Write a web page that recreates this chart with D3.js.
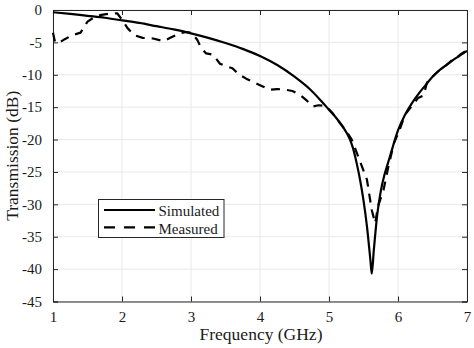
<!DOCTYPE html>
<html>
<head>
<meta charset="utf-8">
<script src="https://cdn.jsdelivr.net/npm/d3@7"></script>
<style>
  html, body { margin: 0; padding: 0; background: #fff; }
  svg { display: block; }
  svg text { font-family: 'Liberation Serif', 'Times New Roman', Tinos, 'DejaVu Serif', serif !important; fill: #1a1a1a; }
</style>
</head>
<body>
<svg id="chart" width="474" height="348"></svg>
<script>
const xTicks = [1, 2, 3, 4, 5, 6, 7];
const yTicks = [0, -5, -10, -15, -20, -25, -30, -35, -40, -45];

const simFreq = [1.0, 1.25, 1.5, 1.75, 2.0, 2.25, 2.5, 2.75, 3.0, 3.25, 3.5, 3.75, 4.0, 4.25, 4.5, 4.75, 4.9, 5.0, 5.1, 5.2, 5.3, 5.35, 5.4, 5.45, 5.5, 5.55, 5.6, 5.62, 5.65, 5.7, 5.75, 5.8, 5.85, 5.9, 6.0, 6.1, 6.2, 6.3, 6.4, 6.5, 6.6, 6.7, 6.8, 6.9, 7.0];
const simDB   = [-0.35, -0.6, -0.9, -1.2, -1.6, -2.0, -2.5, -3.0, -3.6, -4.3, -5.1, -6.0, -7.1, -8.5, -10.3, -12.5, -14.2, -15.4, -16.6, -18.0, -19.9, -21.4, -23.6, -26.2, -29.4, -33.4, -38.6, -40.7, -37.0, -31.5, -28.0, -25.6, -23.8, -22.0, -18.6, -16.2, -14.4, -12.9, -11.6, -10.3, -9.3, -8.5, -7.7, -7.0, -6.3];

const measFreq = [1.0, 1.03, 1.1, 1.17, 1.28, 1.4, 1.5, 1.6, 1.68, 1.8, 1.93, 2.0, 2.08, 2.18, 2.3, 2.45, 2.6, 2.7, 2.84, 2.93, 3.01, 3.09, 3.15, 3.22, 3.32, 3.42, 3.52, 3.6, 3.69, 3.8, 3.9, 4.0, 4.14, 4.25, 4.36, 4.47, 4.58, 4.68, 4.77, 4.85, 4.95, 5.05, 5.16, 5.25, 5.33, 5.44, 5.55, 5.62, 5.67, 5.71, 5.79, 5.86, 5.94, 6.03, 6.1, 6.2, 6.29, 6.37, 6.42, 6.5, 6.6, 6.7, 6.8, 6.85, 6.9, 7.0];
const measDB   = [-3.5, -5.0, -5.0, -4.5, -3.9, -3.5, -1.8, -1.1, -0.8, -0.6, -0.5, -1.5, -2.8, -3.9, -4.3, -4.4, -4.8, -4.3, -3.6, -3.4, -3.5, -4.6, -5.9, -6.7, -6.9, -8.3, -8.7, -9.0, -9.9, -10.6, -11.1, -11.6, -12.3, -12.2, -12.3, -12.5, -13.1, -14.0, -14.9, -14.7, -14.8, -15.9, -17.5, -18.7, -20.0, -23.1, -26.2, -30.9, -32.9, -30.3, -27.8, -24.2, -20.6, -18.3, -16.2, -14.8, -13.6, -13.2, -11.2, -10.3, -9.3, -8.5, -7.6, -7.4, -6.9, -6.2];

const seriesNames = ["Simulated", "Measured"];
const xLabel = "Frequency (GHz)";
const yLabel = "Transmission (dB)";

const FONT = "'Liberation Serif', 'Times New Roman', Tinos, 'DejaVu Serif', serif";
const svg = d3.select("#chart");
const L = 53, R = 467, T = 10, B = 301.5;

const x = d3.scaleLinear().domain([1, 7]).range([L, R]);
const y = d3.scaleLinear().domain([-45, 0]).range([B, T]);

// grid
const grid = svg.append("g");
grid.selectAll("line.gx").data(xTicks).enter().append("line")
  .attr("x1", d => x(d)).attr("x2", d => x(d)).attr("y1", T).attr("y2", B)
  .attr("stroke", "#e8e8e8").attr("stroke-width", 1);
grid.selectAll("line.gy").data(yTicks).enter().append("line")
  .attr("y1", d => y(d)).attr("y2", d => y(d)).attr("x1", L).attr("x2", R)
  .attr("stroke", "#e8e8e8").attr("stroke-width", 1);

// axes
const axisColor = "#262626";
const xAxis = svg.append("g").attr("transform", `translate(0,${B})`)
  .call(d3.axisBottom(x).tickValues(xTicks).tickSize(-5).tickPadding(10).tickFormat(d3.format("d")));
const xAxisTop = svg.append("g").attr("transform", `translate(0,${T})`)
  .call(d3.axisTop(x).tickValues(xTicks).tickSize(-5).tickFormat(""));
const yAxis = svg.append("g").attr("transform", `translate(${L},0)`)
  .call(d3.axisLeft(y).tickValues(yTicks).tickSize(-5).tickPadding(11).tickFormat(d => d === 0 ? "0" : "-" + Math.abs(d)));
const yAxisR = svg.append("g").attr("transform", `translate(${R},0)`)
  .call(d3.axisRight(y).tickValues(yTicks).tickSize(-5).tickFormat(""));

[xAxis, xAxisTop, yAxis, yAxisR].forEach(g => {
  g.attr("font-family", FONT).attr("font-size", 15);
  g.select(".domain").attr("stroke", axisColor).attr("stroke-width", 1);
  g.selectAll(".tick line").attr("stroke", axisColor).attr("stroke-width", 1);
  g.selectAll(".tick text").style("font-family", FONT).style("font-size", "15px").attr("fill", "#1a1a1a");
});
xAxis.selectAll(".tick text").attr("dy", "0.71em");

// series
const simData = simFreq.map((f, i) => [f, simDB[i]]);
const measData = measFreq.map((f, i) => [f, measDB[i]]);

const lineSim = d3.line().x(d => x(d[0])).y(d => y(d[1])).curve(d3.curveMonotoneX);
const lineMeas = d3.line().x(d => x(d[0])).y(d => y(d[1])).curve(d3.curveLinear);

svg.append("path").datum(simData)
  .attr("d", lineSim).attr("fill", "none").attr("stroke", "#000").attr("stroke-width", 2.2)
  .attr("stroke-linejoin", "round");
svg.append("path").datum(measData)
  .attr("d", lineMeas).attr("fill", "none").attr("stroke", "#000").attr("stroke-width", 2.2)
  .attr("stroke-dasharray", "9,7").attr("stroke-linejoin", "round");

// axis titles
svg.append("text").attr("x", (L + R) / 2 + 1).attr("y", 340)
  .attr("text-anchor", "middle").style("font-family", FONT).style("font-size", "17.5px").text(xLabel);
svg.append("text").attr("transform", `translate(18,${(T + B) / 2}) rotate(-90)`)
  .attr("text-anchor", "middle").style("font-family", FONT).style("font-size", "17.5px").text(yLabel);

// legend
const lg = svg.append("g");
lg.append("rect").attr("x", 98.5).attr("y", 199.5).attr("width", 125.5).attr("height", 38)
  .attr("fill", "#fff").attr("stroke", axisColor).attr("stroke-width", 1);
const legendRows = [
  { name: seriesNames[0], dash: null, ly: 210, ty: 216 },
  { name: seriesNames[1], dash: "11,9", ly: 227.3, ty: 234 }
];
legendRows.forEach(r => {
  const ln = lg.append("line").attr("x1", 104).attr("x2", 155).attr("y1", r.ly).attr("y2", r.ly)
    .attr("stroke", "#000").attr("stroke-width", 2.2);
  if (r.dash) ln.attr("stroke-dasharray", r.dash);
  lg.append("text").attr("x", 158.5).attr("y", r.ty).style("font-family", FONT).style("font-size", "15px").text(r.name);
});
</script>
</body>
</html>
